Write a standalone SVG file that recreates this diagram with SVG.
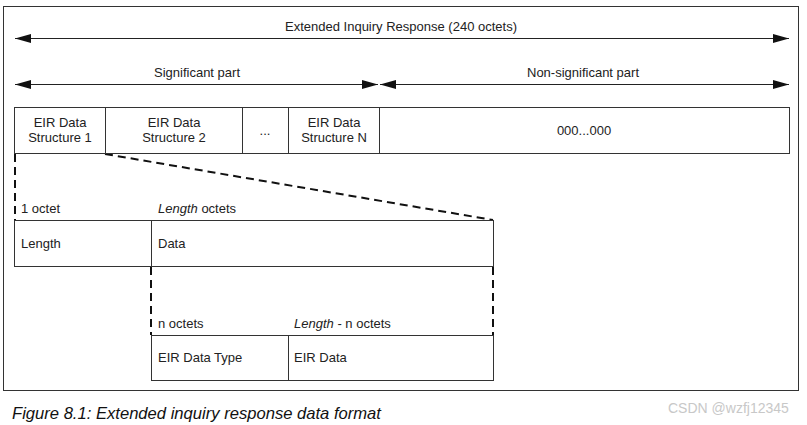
<svg xmlns="http://www.w3.org/2000/svg" width="807" height="425" viewBox="0 0 807 425">
<style>
text{font-family:"Liberation Sans",Arial,sans-serif;font-size:13px;fill:#222}
.c{text-anchor:middle}
.box{fill:#fff;stroke:#333;stroke-width:1}
.arr{stroke:#222;stroke-width:1;fill:none;marker-start:url(#ah);marker-end:url(#ah)}
.dash{stroke:#111;stroke-width:2;stroke-dasharray:8,5;fill:none}
</style>
<defs>
<marker id="ah" viewBox="0 0 16 9" refX="16" refY="4.5" markerWidth="16" markerHeight="9" markerUnits="userSpaceOnUse" orient="auto-start-reverse">
<path d="M0,0 L16,4.5 L0,9 z" fill="#111"/>
</marker>
</defs>
<rect x="3.5" y="6.5" width="795" height="384" fill="#fff" stroke="#333"/>
<g id="connectors">
<line class="arr" x1="15" y1="38.5" x2="789" y2="38.5"/>
<line class="arr" x1="15" y1="84.5" x2="378" y2="84.5"/>
<line class="arr" x1="380" y1="84.5" x2="789" y2="84.5"/>
<path class="dash" d="M15,154 V220"/>
<path class="dash" d="M105,154 L493,220"/>
<path class="dash" d="M151,267 V335"/>
<path class="dash" d="M493,267 V335"/>
</g>
<g id="labels">
<text class="c" x="401" y="31">Extended Inquiry Response (240 octets)</text>
<text class="c" x="197" y="77">Significant part</text>
<text class="c" x="583" y="77">Non-significant part</text>
</g>
<g id="eir1"><rect class="box" x="14.5" y="107.5" width="91" height="46"/><text class="c" x="60" y="127">EIR Data</text><text class="c" x="60" y="142">Structure 1</text></g>
<g id="eir2"><rect class="box" x="105.5" y="107.5" width="137" height="46"/><text class="c" x="174" y="127">EIR Data</text><text class="c" x="174" y="142">Structure 2</text></g>
<g id="dots"><rect class="box" x="242.5" y="107.5" width="46" height="46"/><text class="c" x="265" y="135">...</text></g>
<g id="eirN"><rect class="box" x="288.5" y="107.5" width="91" height="46"/><text class="c" x="334" y="127">EIR Data</text><text class="c" x="334" y="142">Structure N</text></g>
<g id="zeros"><rect class="box" x="379.5" y="107.5" width="410" height="46"/><text class="c" x="584" y="135">000...000</text></g>
<g id="length"><text x="21" y="213">1 octet</text><rect class="box" x="14.5" y="220.5" width="137" height="46"/><text x="21" y="248">Length</text></g>
<g id="data"><text x="158" y="213"><tspan font-style="italic">Length</tspan> octets</text><rect class="box" x="151.5" y="220.5" width="342" height="46"/><text x="158" y="248">Data</text></g>
<g id="type"><text x="158" y="328">n octets</text><rect class="box" x="151.5" y="335.5" width="137" height="45"/><text x="158" y="362">EIR Data Type</text></g>
<g id="eirdata"><text x="294" y="328"><tspan font-style="italic">Length</tspan> - n octets</text><rect class="box" x="288.5" y="335.5" width="205" height="45"/><text x="294" y="362">EIR Data</text></g>
<text x="12" y="419" style="font-size:16.6px;font-style:italic;fill:#111">Figure 8.1: Extended inquiry response data format</text>
<text x="668" y="413" style="font-size:14px;fill:#c8c8c8">CSDN @wzfj12345</text>
</svg>
